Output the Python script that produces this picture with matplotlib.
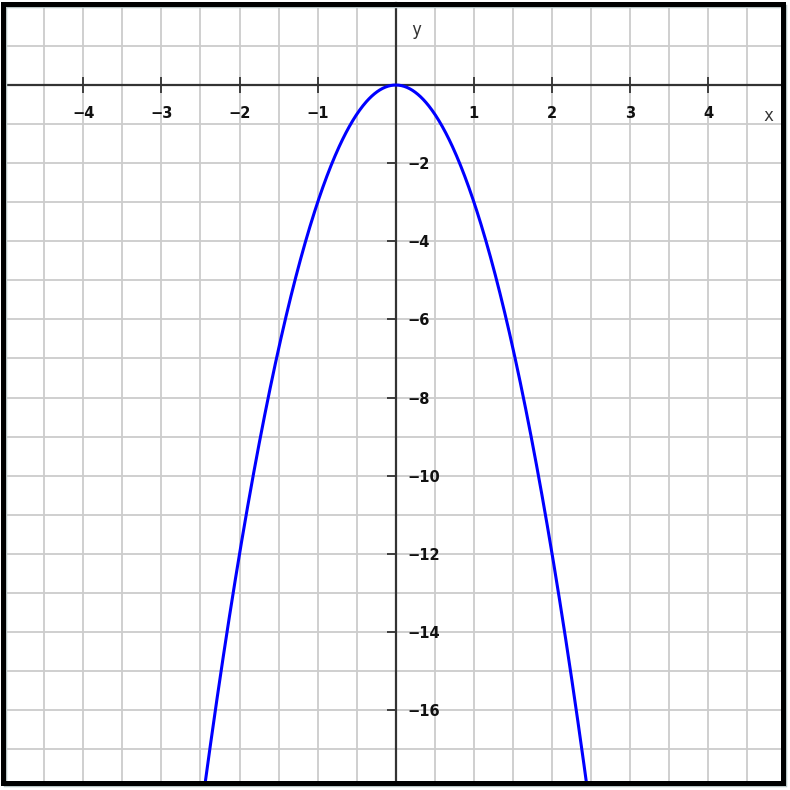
import matplotlib
matplotlib.use('Agg')
import matplotlib.pyplot as plt
import matplotlib.transforms as mtransforms
import numpy as np
from matplotlib.patches import Rectangle
from matplotlib.ticker import MultipleLocator

# graph of y = a * x^2
a = -3
x_min_curve, x_max_curve = -2.6, 2.6

x_ticks = [-4, -3, -2, -1, 1, 2, 3, 4]
x_tick_labels = ['\u22124', '\u22123', '\u22122', '\u22121', '1', '2', '3', '4']
y_ticks = [-2, -4, -6, -8, -10, -12, -14, -16]
y_tick_labels = ['\u22122', '\u22124', '\u22126', '\u22128',
                 '\u221210', '\u221212', '\u221214', '\u221216']

x = np.linspace(x_min_curve, x_max_curve, 600)
y = a * x ** 2

fig = plt.figure(figsize=(7.9, 7.9), dpi=100)
ax = fig.add_axes([3 / 790, 6.7 / 790, 780 / 790, 779.8 / 790])
ax.set_xlim(-5.028, 4.956)
ax.set_ylim(-17.877, 2.087)

# grid every 0.5 in x, every 1 in y
ax.xaxis.set_minor_locator(MultipleLocator(0.5))
ax.yaxis.set_minor_locator(MultipleLocator(1))
ax.grid(which='both', color='#cccccc', lw=1.3)
ax.set_axisbelow(True)

# axes through the origin
for s in ['left', 'top']:
    ax.spines[s].set_visible(False)
ax.spines['bottom'].set_position(('data', 0))
ax.spines['right'].set_position(('data', 0))
for s in ['bottom', 'right']:
    ax.spines[s].set_color('#333333')
    ax.spines[s].set_linewidth(1.6)

ax.set_xticks(x_ticks)
ax.set_xticklabels(x_tick_labels)
ax.set_yticks(y_ticks)
ax.set_yticklabels(y_tick_labels)
ax.yaxis.set_ticks_position('right')

ax.tick_params(axis='x', which='major', direction='inout', length=12, width=1.3,
               color='#333333', pad=9)
ax.tick_params(axis='y', which='major', direction='in', length=6.5, width=1.3,
               color='#333333', pad=8.5, labelright=True, labelleft=False)
ax.tick_params(which='minor', length=0)
for lab in ax.get_xticklabels() + ax.get_yticklabels():
    lab.set_fontfamily('DejaVu Sans')
    lab.set_fontweight('bold')
    lab.set_fontsize(10.5)
    lab.set_color('#111111')

ax.plot(x, y, color='#0000ff', lw=2.2, zorder=3)

ax.text(4.766, -0.79, 'x', ha='center', va='center', fontsize=12,
        color='#333333', family='DejaVu Sans Mono')
ax.text(0.26, 1.41, 'y', ha='center', va='center', fontsize=12,
        color='#333333', family='DejaVu Sans Mono')

# frame with a light shadow
shadow = ax.transAxes + mtransforms.ScaledTranslation(2 / 100, -2 / 100, fig.dpi_scale_trans)
ax.add_patch(Rectangle((0, 0), 1, 1, transform=shadow, fill=False,
                       ec='#b8c4c4', lw=2.5, clip_on=False, zorder=9))
ax.add_patch(Rectangle((0, 0), 1, 1, transform=ax.transAxes, fill=False,
                       ec='black', lw=3.6, clip_on=False, zorder=10))

fig.savefig('out.png', dpi=100)
